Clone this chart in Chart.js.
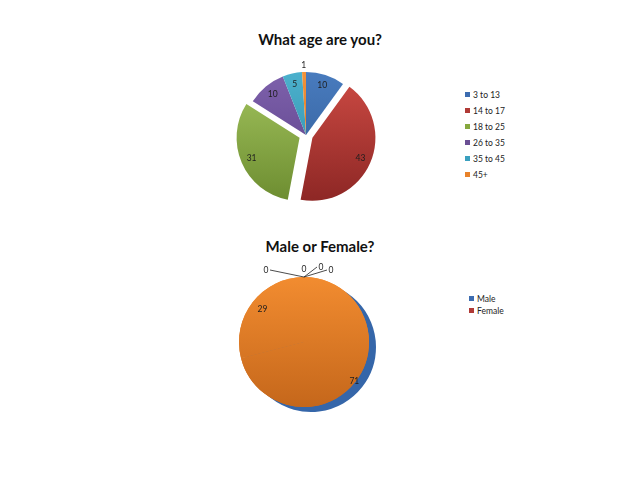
<!DOCTYPE html>
<html>
<head>
<meta charset="utf-8">
<script src="https://cdn.jsdelivr.net/npm/chart.js"></script>
<style>
  html, body { margin: 0; padding: 0; background: #ffffff; }
  #page { position: relative; width: 638px; height: 478px; overflow: hidden; background: #fff; font-family: Lato, "DejaVu Sans", sans-serif; }
  .title { position: absolute; left: 0; width: 640px; text-align: center; font-weight: 700; font-size: 15px; line-height: 20px; color: #111; }
  canvas { position: absolute; }
  .legend { position: absolute; font-size: 8.5px; color: #222; }
  .legend .row { position: relative; height: 16px; line-height: 16px; white-space: nowrap; }
  .legend .box { display: inline-block; width: 5px; height: 5px; margin-right: 3px; vertical-align: middle; position: relative; top: -1px; }
</style>
</head>
<body>
<div id="page">
  <div class="title" id="t1" style="top:29px">What age are you?</div>
  <canvas id="c1" width="180" height="180" style="left:216px;top:45px;width:180px;height:180px"></canvas>
  <div class="legend" id="l1" style="left:465px;top:87px"></div>

  <div class="title" id="t2" style="top:236px">Male or Female?</div>
  <canvas id="c2" width="180" height="180" style="left:214px;top:252px;width:180px;height:180px"></canvas>
  <div class="legend" id="l2" style="left:469px;top:293px"></div>
</div>
<script>
// ---------- data ----------
const ageTitle = 'What age are you?';
const ageCategories = ['3 to 13', '14 to 17', '18 to 25', '26 to 35', '35 to 45', '45+'];
const ageValues = [10, 43, 31, 10, 5, 1];
const ageExploded = [false, true, true, false, false, false];

const genderTitle = 'Male or Female?';
const genderCategories = ['Male', 'Female'];
const genderValues = [29, 71];
const genderEmptyCategories = ['', '', '', ''];
const genderEmptyValues = [0, 0, 0, 0];

// ---------- styles ----------
const ageColors = [
  ['#4a7dc0', '#2d5892', '#3c6cb0'],
  ['#cf4c45', '#8a2523', '#b03a36'],
  ['#a5c660', '#6a8a2e', '#86a83e'],
  ['#8063ae', '#573d83', '#6a4f94'],
  ['#4db3cf', '#2c86a2', '#3aa0bf'],
  ['#f5953b', '#cf6b17', '#e8822a']
];
const genderLegendColors = ['#3c6cb0', '#b03a36'];
const genderFill = ['#f28c30', '#c5671b'];
const genderShadow = '#3566a9';
const PIE_R = 63;
const EXPLODE = 7;

function vGrad(chart, top, bottom, c1, c2) {
  const g = chart.ctx.createLinearGradient(0, top, 0, bottom);
  g.addColorStop(0, c1);
  g.addColorStop(1, c2);
  return g;
}
function pieCenterY(chart) {
  const a = chart.chartArea;
  return (a.top + a.bottom) / 2;
}

// draws the library's arc elements, pulled out along their mid-angle when exploded
const explodeDraw = {
  id: 'explodeDraw',
  beforeDatasetDraw(chart, args, opts) {
    const ctx = chart.ctx;
    const dist = opts.distances || [];
    const passes = opts.shadow ? [true, false] : [false];
    passes.forEach(sh => {
      args.meta.data.forEach((arc, i) => {
        const p = arc.getProps(['startAngle', 'endAngle'], true);
        const mid = (p.startAngle + p.endAngle) / 2;
        const d = dist[i] || 0;
        ctx.save();
        if (sh) {
          ctx.shadowColor = opts.shadow.color;
          ctx.shadowOffsetX = opts.shadow.dx;
          ctx.shadowOffsetY = opts.shadow.dy;
          ctx.shadowBlur = 0;
        }
        ctx.translate(Math.cos(mid) * d, Math.sin(mid) * d);
        arc.draw(ctx, chart.chartArea);
        ctx.restore();
      });
    });
    return false;
  }
};

// labels plugin: positions derived from the library's arc geometry
const sliceLabels = {
  id: 'sliceLabels',
  afterDatasetsDraw(chart, args, opts) {
    const ctx = chart.ctx;
    const meta = chart.getDatasetMeta(0);
    const ds = chart.data.datasets[0];
    const total = ds.data.reduce((a, b) => a + b, 0);
    const dist = (chart.options.plugins.explodeDraw || {}).distances || [];
    ctx.save();
    ctx.font = '8.5px Lato';
    ctx.fillStyle = '#1e1e1e';
    ctx.strokeStyle = '#1e1e1e';
    ctx.lineWidth = 0.8;
    ctx.textAlign = 'center';
    ctx.textBaseline = 'middle';
    let z = 0;
    meta.data.forEach((arc, i) => {
      const v = ds.data[i];
      const off = dist[i] || 0;
      const p = arc.getProps(['x', 'y', 'startAngle', 'endAngle', 'outerRadius'], true);
      const mid = (p.startAngle + p.endAngle) / 2;
      const cs = Math.cos(mid), sn = Math.sin(mid);
      if (v === 0) {
        const ax = p.x + cs * p.outerRadius, ay = p.y + sn * p.outerRadius;
        const fan = (opts.zeroFan || [])[z] || [0, -8];
        z++;
        const lx = ax + fan[0], ly = ay + fan[1];
        if (Math.abs(fan[0]) > 3) {
          ctx.beginPath();
          ctx.moveTo(ax, ay);
          ctx.lineTo(lx - Math.sign(fan[0]) * 4, ly);
          ctx.stroke();
        }
        ctx.fillText(String(v), lx, ly);
        return;
      }
      const ratio = Array.isArray(opts.ratio) ? opts.ratio[i] : opts.ratio;
      const d = (v / total < 0.02) ? p.outerRadius + off + 7 : p.outerRadius * ratio + off;
      ctx.fillText(String(v), p.x + cs * d, p.y + sn * d);
    });
    ctx.restore();
  }
};

// ---------- chart 1 ----------
new Chart(document.getElementById('c1'), {
  type: 'pie',
  data: {
    labels: ageCategories,
    datasets: [{
      data: ageValues,
      borderWidth: 0,
      backgroundColor: (c) => {
        const chart = c.chart;
        const col = ageColors[c.dataIndex % ageColors.length];
        if (!chart.chartArea) return col[2];
        const cy = pieCenterY(chart);
        return vGrad(chart, cy - PIE_R - EXPLODE, cy + PIE_R + EXPLODE, col[0], col[1]);
      }
    }]
  },
  options: {
    responsive: false,
    animation: false,
    radius: PIE_R,
    devicePixelRatio: 1,
    plugins: {
      legend: { display: false },
      tooltip: { enabled: false },
      explodeDraw: { distances: ageExploded.map(e => e ? EXPLODE : 0) },
      sliceLabels: { ratio: 0.83 }
    }
  },
  plugins: [explodeDraw, sliceLabels]
});

// ---------- chart 2 ----------
const male = genderValues[0], female = genderValues[1];
const gTotal = genderValues.reduce((a, b) => a + b, 0);
const gData = [male, ...genderEmptyValues, female];
const gLabels = [genderCategories[0], ...genderEmptyCategories, genderCategories[1]];
const G_R = 65;

new Chart(document.getElementById('c2'), {
  type: 'pie',
  data: {
    labels: gLabels,
    datasets: [{
      data: gData,
      borderWidth: 0,
      backgroundColor: (c) => {
        const chart = c.chart;
        if (!chart.chartArea) return genderFill[0];
        const cy = pieCenterY(chart);
        return vGrad(chart, cy - G_R, cy + G_R, genderFill[0], genderFill[1]);
      }
    }]
  },
  options: {
    responsive: false,
    animation: false,
    radius: G_R,
    rotation: -male / gTotal * 360,
    devicePixelRatio: 1,
    plugins: {
      legend: { display: false },
      tooltip: { enabled: false },
      explodeDraw: { distances: [], shadow: { color: genderShadow, dx: 7, dy: 5 } },
      sliceLabels: { ratio: [0.81, 0, 0, 0, 0, 0.98], zeroFan: [[-38, -7], [0, -8], [17, -10], [27, -7]] }
    }
  },
  plugins: [explodeDraw, sliceLabels]
});

// ---------- legends ----------
function buildLegend(el, names, colors, rowH) {
  names.forEach((n, i) => {
    const row = document.createElement('div');
    row.className = 'row';
    row.style.height = rowH + 'px';
    row.style.lineHeight = rowH + 'px';
    const box = document.createElement('span');
    box.className = 'box';
    box.style.background = colors[i];
    row.appendChild(box);
    row.appendChild(document.createTextNode(n));
    el.appendChild(row);
  });
}
buildLegend(document.getElementById('l1'), ageCategories, ageColors.map(c => c[2]), 16);
buildLegend(document.getElementById('l2'), genderCategories, genderLegendColors, 12);
document.getElementById('t1').textContent = ageTitle;
document.getElementById('t2').textContent = genderTitle;
</script>
</body>
</html>
